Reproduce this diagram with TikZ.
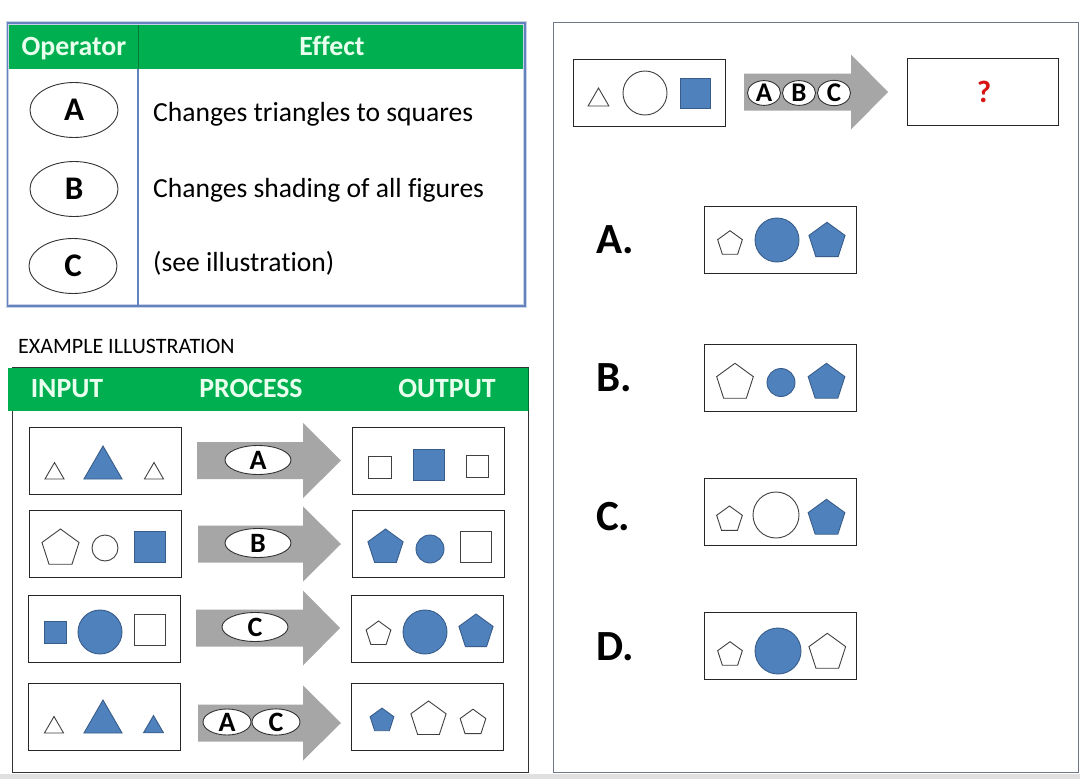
\documentclass[tikz,border=0pt]{standalone}
\usepackage{fontspec}
\setmainfont[Ligatures=NoCommon]{Carlito}
\usetikzlibrary{shapes.geometric}
\definecolor{hgreen}{RGB}{0,176,80}
\definecolor{hwhite}{RGB}{232,255,238}
\definecolor{fblue}{RGB}{79,129,189}
\definecolor{dblue}{RGB}{56,93,138}
\definecolor{agray}{RGB}{166,166,166}
\definecolor{tblue}{RGB}{100,130,190}
\definecolor{pgray}{RGB}{110,120,135}
\definecolor{qred}{RGB}{215,20,20}
\newcommand{\garrow}[4]{%
  \fill[agray] (#1,#2-18.5) -- (#3,#2-18.5) -- (#3,#2-37.5) -- (#4,#2) -- (#3,#2+37.5) -- (#3,#2+18.5) -- (#1,#2+18.5) -- cycle;}
\tikzset{
  box/.style={draw=black!85, line width=1pt, fill=white, minimum width=152pt, minimum height=67pt, inner sep=0pt},
  fw/.style={draw=black!75, line width=0.9pt, fill=white, inner sep=0pt, outer sep=0pt},
  fb/.style={draw=dblue, line width=0.9pt, fill=fblue, inner sep=0pt, outer sep=0pt},
  pent/.style={regular polygon, regular polygon sides=5, minimum size=#1},
  tri/.style={regular polygon, regular polygon sides=3, minimum size=#1},
  circ/.style={circle, minimum size=#1},
  sq/.style={rectangle, minimum size=#1},
  op/.style={ellipse, draw=black!80, fill=white, line width=0.9pt, inner sep=0pt},
  hdr/.style={font=\fontsize{27.8}{32}\selectfont\bfseries, text=hwhite, inner sep=0pt, anchor=base},
  eff/.style={font=\fontsize{27.6}{32}\selectfont, inner sep=0pt, anchor=base west},
  optlab/.style={font=\fontsize{43}{48}\selectfont\bfseries, inner sep=0pt, anchor=base west},
}
\begin{document}
\begin{tikzpicture}[x=1pt,y=-1pt]
\useasboundingbox (0,0) rectangle (1080,779);
\fill[white] (0,0) rectangle (1080,779);
\fill[black!12] (0,774) rectangle (1080,779);

% ---------- operator table ----------
\fill[hgreen] (7.5,23) rectangle (525,69);
\draw[hgreen!70!black, line width=0.8pt] (138,23) -- (138,69);
\draw[tblue!35, line width=3.5pt] (7.5,23) rectangle (525,306);
\draw[tblue, line width=1.3pt] (7.5,23) rectangle (525,306);
\draw[tblue, line width=1.3pt] (138,69) -- (138,306);
\node[hdr] (hOp) at (74,55) {Operator};
\node[hdr] (hEff) at (332,55) {Effect};
\node[op, minimum width=88pt, minimum height=55pt, font=\fontsize{33}{38}\selectfont\bfseries] (opA) at (74,110) {A};
\node[op, minimum width=88pt, minimum height=55pt, font=\fontsize{33}{38}\selectfont\bfseries] (opB) at (74,189) {B};
\node[op, minimum width=88pt, minimum height=55pt, font=\fontsize{33}{38}\selectfont\bfseries] (opC) at (73,266) {C};
\node[eff] (effA) at (153,121) {Changes triangles to squares};
\node[eff] (effB) at (153,197) {Changes shading of all figures};
\node[eff] (effC) at (153,271) {(see illustration)};

% ---------- example illustration ----------
\node[font=\fontsize{22}{26}\selectfont, inner sep=0pt, anchor=base west] (exlab) at (18,353) {EXAMPLE ILLUSTRATION};
\draw[black!80, line width=1pt] (12,367) rectangle (528,772);
\fill[hgreen] (8,368) rectangle (528,411);
\draw[hgreen!60!black, line width=0.8pt] (528,368) -- (528,411);
\node[hdr] (hIn) at (67,397) {INPUT};
\node[hdr] (hPr) at (251,397) {PROCESS};
\node[hdr] (hOut) at (447,397) {OUTPUT};

% arrows
\garrow{197}{460.5}{303}{341}
\garrow{198}{544}{303}{341}
\garrow{196}{628}{303}{340}
\garrow{198}{723}{303}{341}
\node[op, minimum width=66pt, minimum height=29pt, font=\fontsize{28}{32}\selectfont\bfseries] (pA) at (258,460) {A};
\node[op, minimum width=66pt, minimum height=29pt, font=\fontsize{28}{32}\selectfont\bfseries] (pB) at (258,543) {B};
\node[op, minimum width=66pt, minimum height=29pt, font=\fontsize{28}{32}\selectfont\bfseries] (pC) at (255,627) {C};
\node[op, minimum width=48pt, minimum height=26pt, font=\fontsize{28}{32}\selectfont\bfseries] (pA2) at (227,722) {A};
\node[op, minimum width=48pt, minimum height=26pt, font=\fontsize{28}{32}\selectfont\bfseries] (pC2) at (276,722) {C};

% row 1
\node[box] (in1) at (105,461) {};
\node[box] (out1) at (428,461) {};
\node[fw, tri=22pt] (i1a) at (54.5,473.5) {};
\node[fb, tri=44pt] (i1b) at (103,468) {};
\node[fw, tri=22pt] (i1c) at (154,473.5) {};
\node[fw, sq=22.5pt] (o1a) at (380,467.5) {};
\node[fb, sq=31pt] (o1b) at (429,464.5) {};
\node[fw, sq=22pt] (o1c) at (477.5,466) {};
% row 2
\node[box] (in2) at (105,543.5) {};
\node[box] (out2) at (428,543.5) {};
\node[fw, pent=39pt] (i2a) at (60.5,548.5) {};
\node[fw, circ=26pt] (i2b) at (105,548) {};
\node[fb, sq=31pt] (i2c) at (150,547) {};
\node[fb, pent=37pt] (o2a) at (385.5,547.5) {};
\node[fb, circ=28pt] (o2b) at (430,549) {};
\node[fw, sq=31pt] (o2c) at (476,547) {};
% row 3
\node[box] (in3) at (104,629) {};
\node[box] (out3) at (427,629) {};
\node[fb, sq=22pt] (i3a) at (55,632) {};
\node[fb, circ=44pt] (i3b) at (100,632) {};
\node[fw, sq=31pt] (i3c) at (150,629.5) {};
\node[fw, pent=26pt] (o3a) at (378.5,634) {};
\node[fb, circ=44pt] (o3b) at (425,632) {};
\node[fb, pent=36pt] (o3c) at (476,632) {};
% row 4
\node[box] (in4) at (104,716.5) {};
\node[box] (out4) at (427,716.5) {};
\node[fw, tri=22pt] (i4a) at (54,727.5) {};
\node[fb, tri=44pt] (i4b) at (103,722) {};
\node[fb, tri=23pt] (i4c) at (153.5,727) {};
\node[fb, pent=25pt] (o4a) at (382,720.6) {};
\node[fw, pent=37pt] (o4b) at (428.5,719.5) {};
\node[fw, pent=27pt] (o4c) at (473,722.7) {};

% ---------- right panel ----------
\draw[pgray, line width=1pt] (553,22.5) rectangle (1078,772);
\node[box] (qin) at (649,93) {};
\node[fw, tri=24pt] (qa) at (598.5,100) {};
\node[fw, circ=44pt] (qb) at (645,93) {};
\node[fb, sq=30pt] (qc) at (695,93) {};
\garrow{744}{92}{851}{888}
\node[op, minimum width=33pt, minimum height=24pt, font=\fontsize{27}{30}\selectfont\bfseries] (tA) at (764,93) {A};
\node[op, minimum width=33pt, minimum height=24pt, font=\fontsize{27}{30}\selectfont\bfseries] (tB) at (799,93) {B};
\node[op, minimum width=33pt, minimum height=24pt, font=\fontsize{27}{30}\selectfont\bfseries] (tC) at (834,93) {C};
\node[box, minimum width=151pt] (qout) at (982.5,92) {};
\node[font=\fontsize{31}{34}\selectfont\bfseries, text=qred, inner sep=0pt] (qm) at (984,92) {?};

% options
\node[optlab] (lA) at (596,253) {A.};
\node[optlab] (lB) at (596,391) {B.};
\node[optlab] (lC) at (596,530) {C.};
\node[optlab] (lD) at (596,660) {D.};
\node[box] (bA) at (780,239.5) {};
\node[box] (bB) at (780,377.5) {};
\node[box] (bC) at (780,511.5) {};
\node[box] (bD) at (780,646) {};
\node[fw, pent=26pt] (a1) at (730,243.7) {};
\node[fb, circ=44pt] (a2) at (777,240) {};
\node[fb, pent=38pt] (a3) at (827,241.3) {};
\node[fw, pent=38.6pt] (b1) at (735,382.6) {};
\node[fb, circ=28pt] (b2) at (781,382.5) {};
\node[fb, pent=38.6pt] (b3) at (826.5,382.6) {};
\node[fw, pent=27pt] (c1) at (729.5,519.5) {};
\node[fw, circ=46pt] (c2) at (776,515) {};
\node[fb, pent=38.6pt] (c3) at (826.5,518.6) {};
\node[fw, pent=26pt] (d1) at (730,654.7) {};
\node[fb, circ=46pt] (d2) at (778,651) {};
\node[fw, pent=38.6pt] (d3) at (827.3,652.6) {};
\end{tikzpicture}
\end{document}
